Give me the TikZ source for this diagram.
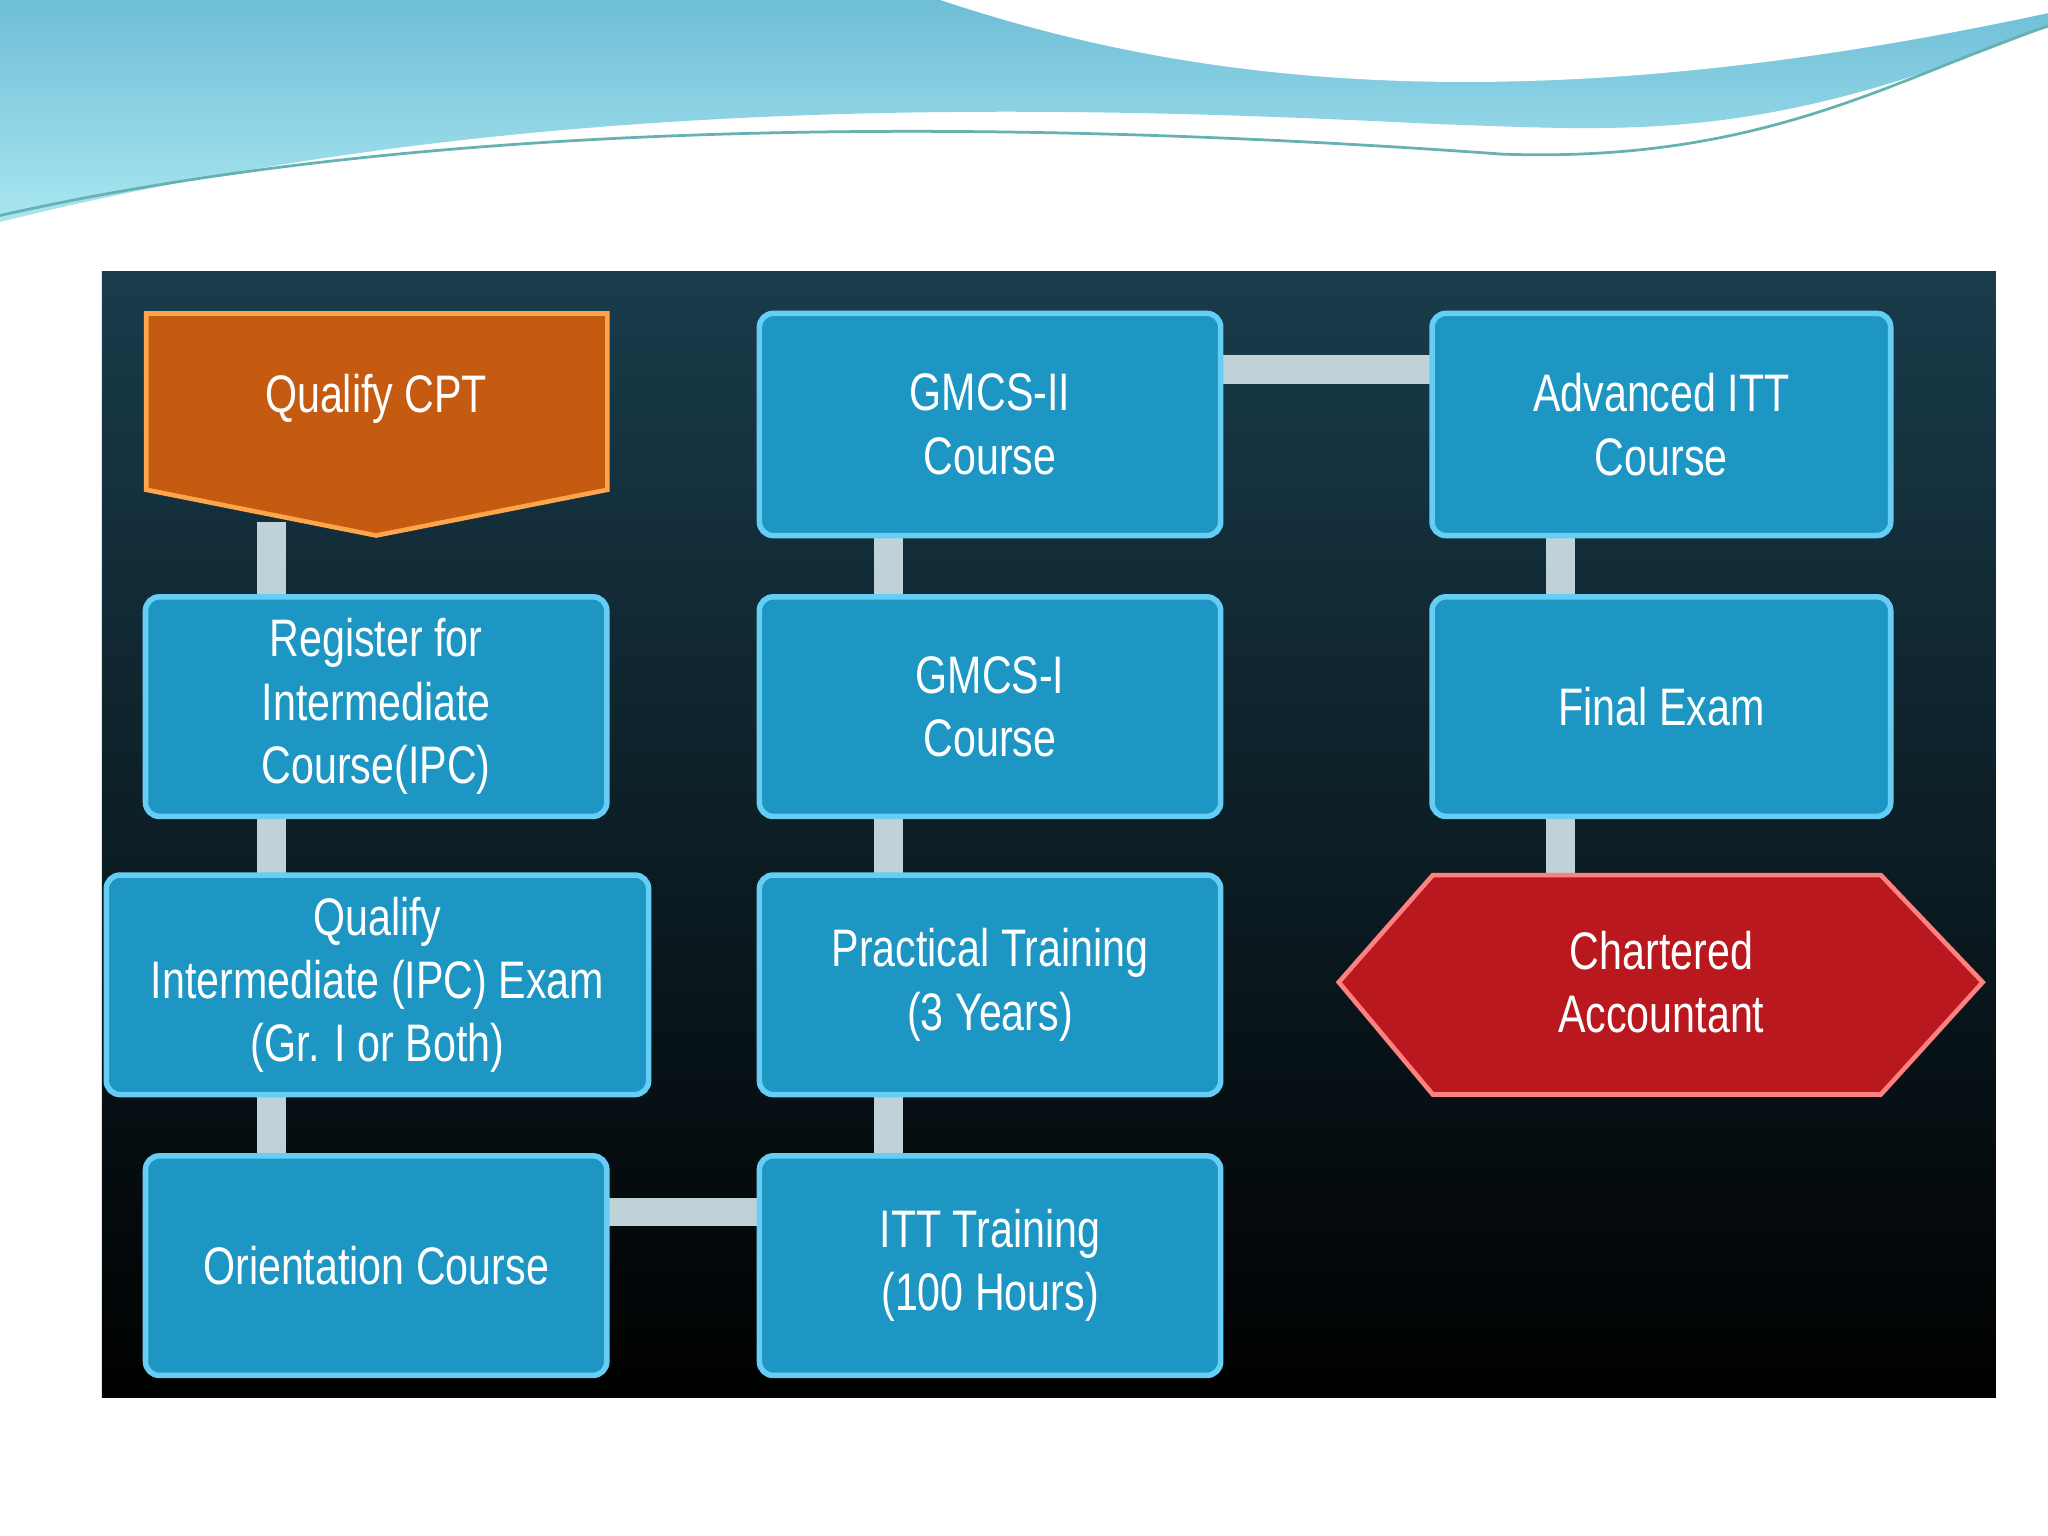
\documentclass[tikz,border=0pt]{standalone}
\usepackage{fontspec}
\setmainfont{Liberation Sans}[FakeStretch=0.78]
\usetikzlibrary{shapes.geometric}
\begin{document}
\begin{tikzpicture}[x=0.01cm,y=-0.01cm,
  box/.style={draw=cyan!60!white,line width=1.2pt,fill={rgb,255:red,30;green,150;blue,195},rounded corners=3pt,
    text=white,align=center,font=\fontsize{11.5}{13.8}\selectfont},
  bar/.style={line width=0.22cm,color={rgb,255:red,190;green,210;blue,215}}]
\useasboundingbox (0,0) rectangle (1568,1176);
\fill[white] (0,0) rectangle (1568,1176);
% top wave
\shade[top color={rgb,255:red,110;green,190;blue,215},bottom color={rgb,255:red,170;green,230;blue,240}]
 (0,0) -- (1568,0) -- (1568,20) .. controls (1350,110) and (1250,100) .. (1100,95)
 .. controls (800,80) and (400,70) .. (0,170) -- cycle;
\fill[white] (720,0) .. controls (900,60) and (1150,100) .. (1568,10) -- (1568,0) -- cycle;
\draw[teal!60,line width=0.6pt] (0,165) .. controls (400,75) and (900,100) .. (1150,118) .. controls (1350,125) and (1450,60) .. (1568,20);
% panel
\shade[top color={rgb,255:red,25;green,60;blue,75},bottom color=black] (78,208) rectangle (1528,1070);
% connectors
\coordinate (h1a) at (935,283); \coordinate (h1b) at (1097,283);
\coordinate (h2a) at (465,928); \coordinate (h2b) at (582,928);
\draw[bar] (208,400) -- (208,460) (208,620) -- (208,672) (208,835) -- (208,888);
\draw[bar] (680,405) -- (680,460) (680,620) -- (680,672) (680,835) -- (680,888);
\draw[bar] (1195,405) -- (1195,460) (1195,620) -- (1195,672);
\draw[bar] (h1a) -- (h1b); \draw[bar] (h2a) -- (h2b);
% nodes
\fill[fill={rgb,255:red,197;green,90;blue,17},draw=orange!70!white,line width=1pt]
 (112,240) -- (465,240) -- (465,375) -- (288,410) -- (112,375) -- cycle;
\node[text=white,font=\fontsize{11.5}{13.8}\selectfont] (cpt) at (288,305) {Qualify CPT};
\node[box,minimum width=3.53cm,minimum height=1.68cm] (reg) at (288,541) {Register for\\Intermediate\\Course(IPC)};
\node[box,minimum width=4.15cm,minimum height=1.68cm] (qi) at (289,754) {Qualify\\Intermediate (IPC) Exam\\(Gr. I or Both)};
\node[box,minimum width=3.53cm,minimum height=1.68cm] (ori) at (288,969) {Orientation Course};
\node[box,minimum width=3.53cm,minimum height=1.70cm] (g2) at (758,325) {GMCS-II\\Course};
\node[box,minimum width=3.53cm,minimum height=1.68cm] (g1) at (758,541) {GMCS-I\\Course};
\node[box,minimum width=3.53cm,minimum height=1.68cm] (pt) at (758,754) {Practical Training\\(3 Years)};
\node[box,minimum width=3.53cm,minimum height=1.68cm] (itt) at (758,969) {ITT Training\\(100 Hours)};
\node[box,minimum width=3.51cm,minimum height=1.70cm] (adv) at (1272,325) {Advanced ITT\\Course};
\node[box,minimum width=3.51cm,minimum height=1.68cm] (fin) at (1272,541) {Final Exam};
\fill[fill={rgb,255:red,185;green,25;blue,30},draw=red!50!white,line width=1pt]
 (1025,752) -- (1097,670) -- (1440,670) -- (1518,752) -- (1440,838) -- (1097,838) -- cycle;
\node[text=white,align=center,font=\fontsize{11.5}{13.8}\selectfont] (ca) at (1272,752) {Chartered\\Accountant};
\end{tikzpicture}
\end{document}
